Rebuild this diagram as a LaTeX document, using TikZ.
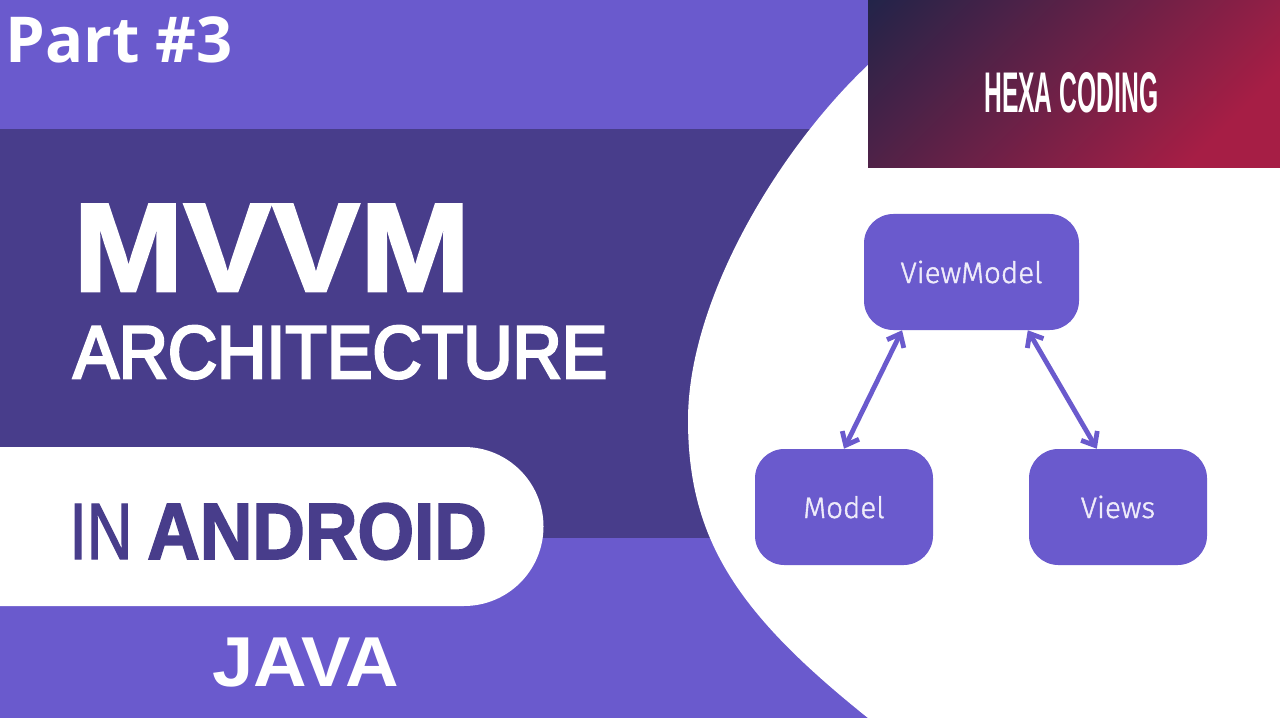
\documentclass[tikz,border=0pt]{standalone}
\usepackage{fontspec}
\usetikzlibrary{arrows.meta}
\setmainfont{Liberation Sans}
\newfontfamily\partfont{Open Sans}
\newfontfamily\mvvmfont[FakeStretch=1.05,BoldFeatures={FakeBold=2}]{Liberation Sans}
\newfontfamily\archfont[FakeStretch=0.913,FakeBold=3.5]{Liberation Sans}
\newfontfamily\infont[FakeStretch=0.79,FakeBold=1.5]{Liberation Sans}
\newfontfamily\androidfont[FakeStretch=0.91,BoldFeatures={FakeBold=2}]{Liberation Sans}
\newfontfamily\javafont[FakeStretch=1.05]{Liberation Sans}
\newfontfamily\hexafont[FakeStretch=0.43]{Liberation Sans}
\newfontfamily\labelfont[UprightFont=* Light,FakeBold=1.5]{Fira Sans}
\definecolor{lightband}{HTML}{6A5ACD}
\definecolor{darkband}{HTML}{483D8B}
\definecolor{hexanavy}{HTML}{1B2449}
\definecolor{hexared}{HTML}{A61E45}
\definecolor{labeltext}{HTML}{EFECFA}
\pgfdeclarehorizontalshading{hexagrad}{100bp}{color(0bp)=(hexanavy); color(36bp)=(hexanavy); color(58.6bp)=(hexared); color(100bp)=(hexared)}
\tikzset{
	title/.style={anchor=base west,inner sep=0pt,text=white},
	box/.style={fill=lightband,rounded corners=22pt,minimum height=87pt,inner sep=0pt,text=labeltext,text height=16.5pt,text depth=0pt,font=\labelfont\fontsize{22.2}{26}\selectfont},
	twoway/.style={{Straight Barb[length=8.5pt,width=14pt,line width=3.6pt]}-{Straight Barb[length=8.5pt,width=14pt,line width=3.6pt]},draw=lightband,line width=3.6pt}
}
\begin{document}
\begin{tikzpicture}[x=0.75pt,y=-0.75pt]
	\useasboundingbox (0,0) rectangle (1280,720);
	\fill[white] (0,0) rectangle (1280,720);
	\fill[lightband] (0,0) rectangle (1280,718);
	\fill[darkband] (0,129) rectangle (1000,538);
	\fill[white] (868,65) .. controls (778,150) and (688,300) .. (688,420) .. controls (688,540) and (738,614) .. (868,718) -- (1280,718) -- (1280,65) -- cycle;
	\fill[white] (0,447) -- (464,447) arc[start angle=-90,end angle=90,radius=79.5] -- (0,606) -- cycle;
	\begin{scope}
		\clip (868,0) rectangle (1280,168);
		\shade[shading=hexagrad,shading angle=-45] (674,-316) rectangle (1474,484);
	\end{scope}

	\node[title] (part) at (5,63) {\partfont\bfseries\fontsize{47.5}{50}\selectfont Part \#3};
	\node[title] (mvvm) at (73,291) {\mvvmfont\bfseries\fontsize{94.5}{95}\selectfont MVVM};
	\node[title] (arch) at (73,378) {\archfont\fontsize{56}{57}\selectfont ARCHITECTURE};
	\node[title,text=darkband] (in) at (69,559) {\infont\fontsize{60}{60}\selectfont IN};
	\node[title,text=darkband] (android) at (147,559) {\androidfont\bfseries\fontsize{60}{60}\selectfont ANDROID};
	\node[title] (java) at (212,686) {\javafont\bfseries\fontsize{53}{54}\selectfont JAVA};
	\node[title] (hexa) at (984,113) {\hexafont\bfseries\fontsize{43}{44}\selectfont HEXA CODING};

	\node[box,minimum width=161.25pt] (viewmodel) at (971.5,272) {ViewModel};
	\node[box,minimum width=133.5pt] (model) at (844,507) {Model};
	\node[box,minimum width=133.5pt] (views) at (1118,507) {Views};

	\draw[twoway] (viewmodel.220) -- (model.north);
	\draw[twoway] (viewmodel.-46) -- (views.110);
\end{tikzpicture}
\end{document}
